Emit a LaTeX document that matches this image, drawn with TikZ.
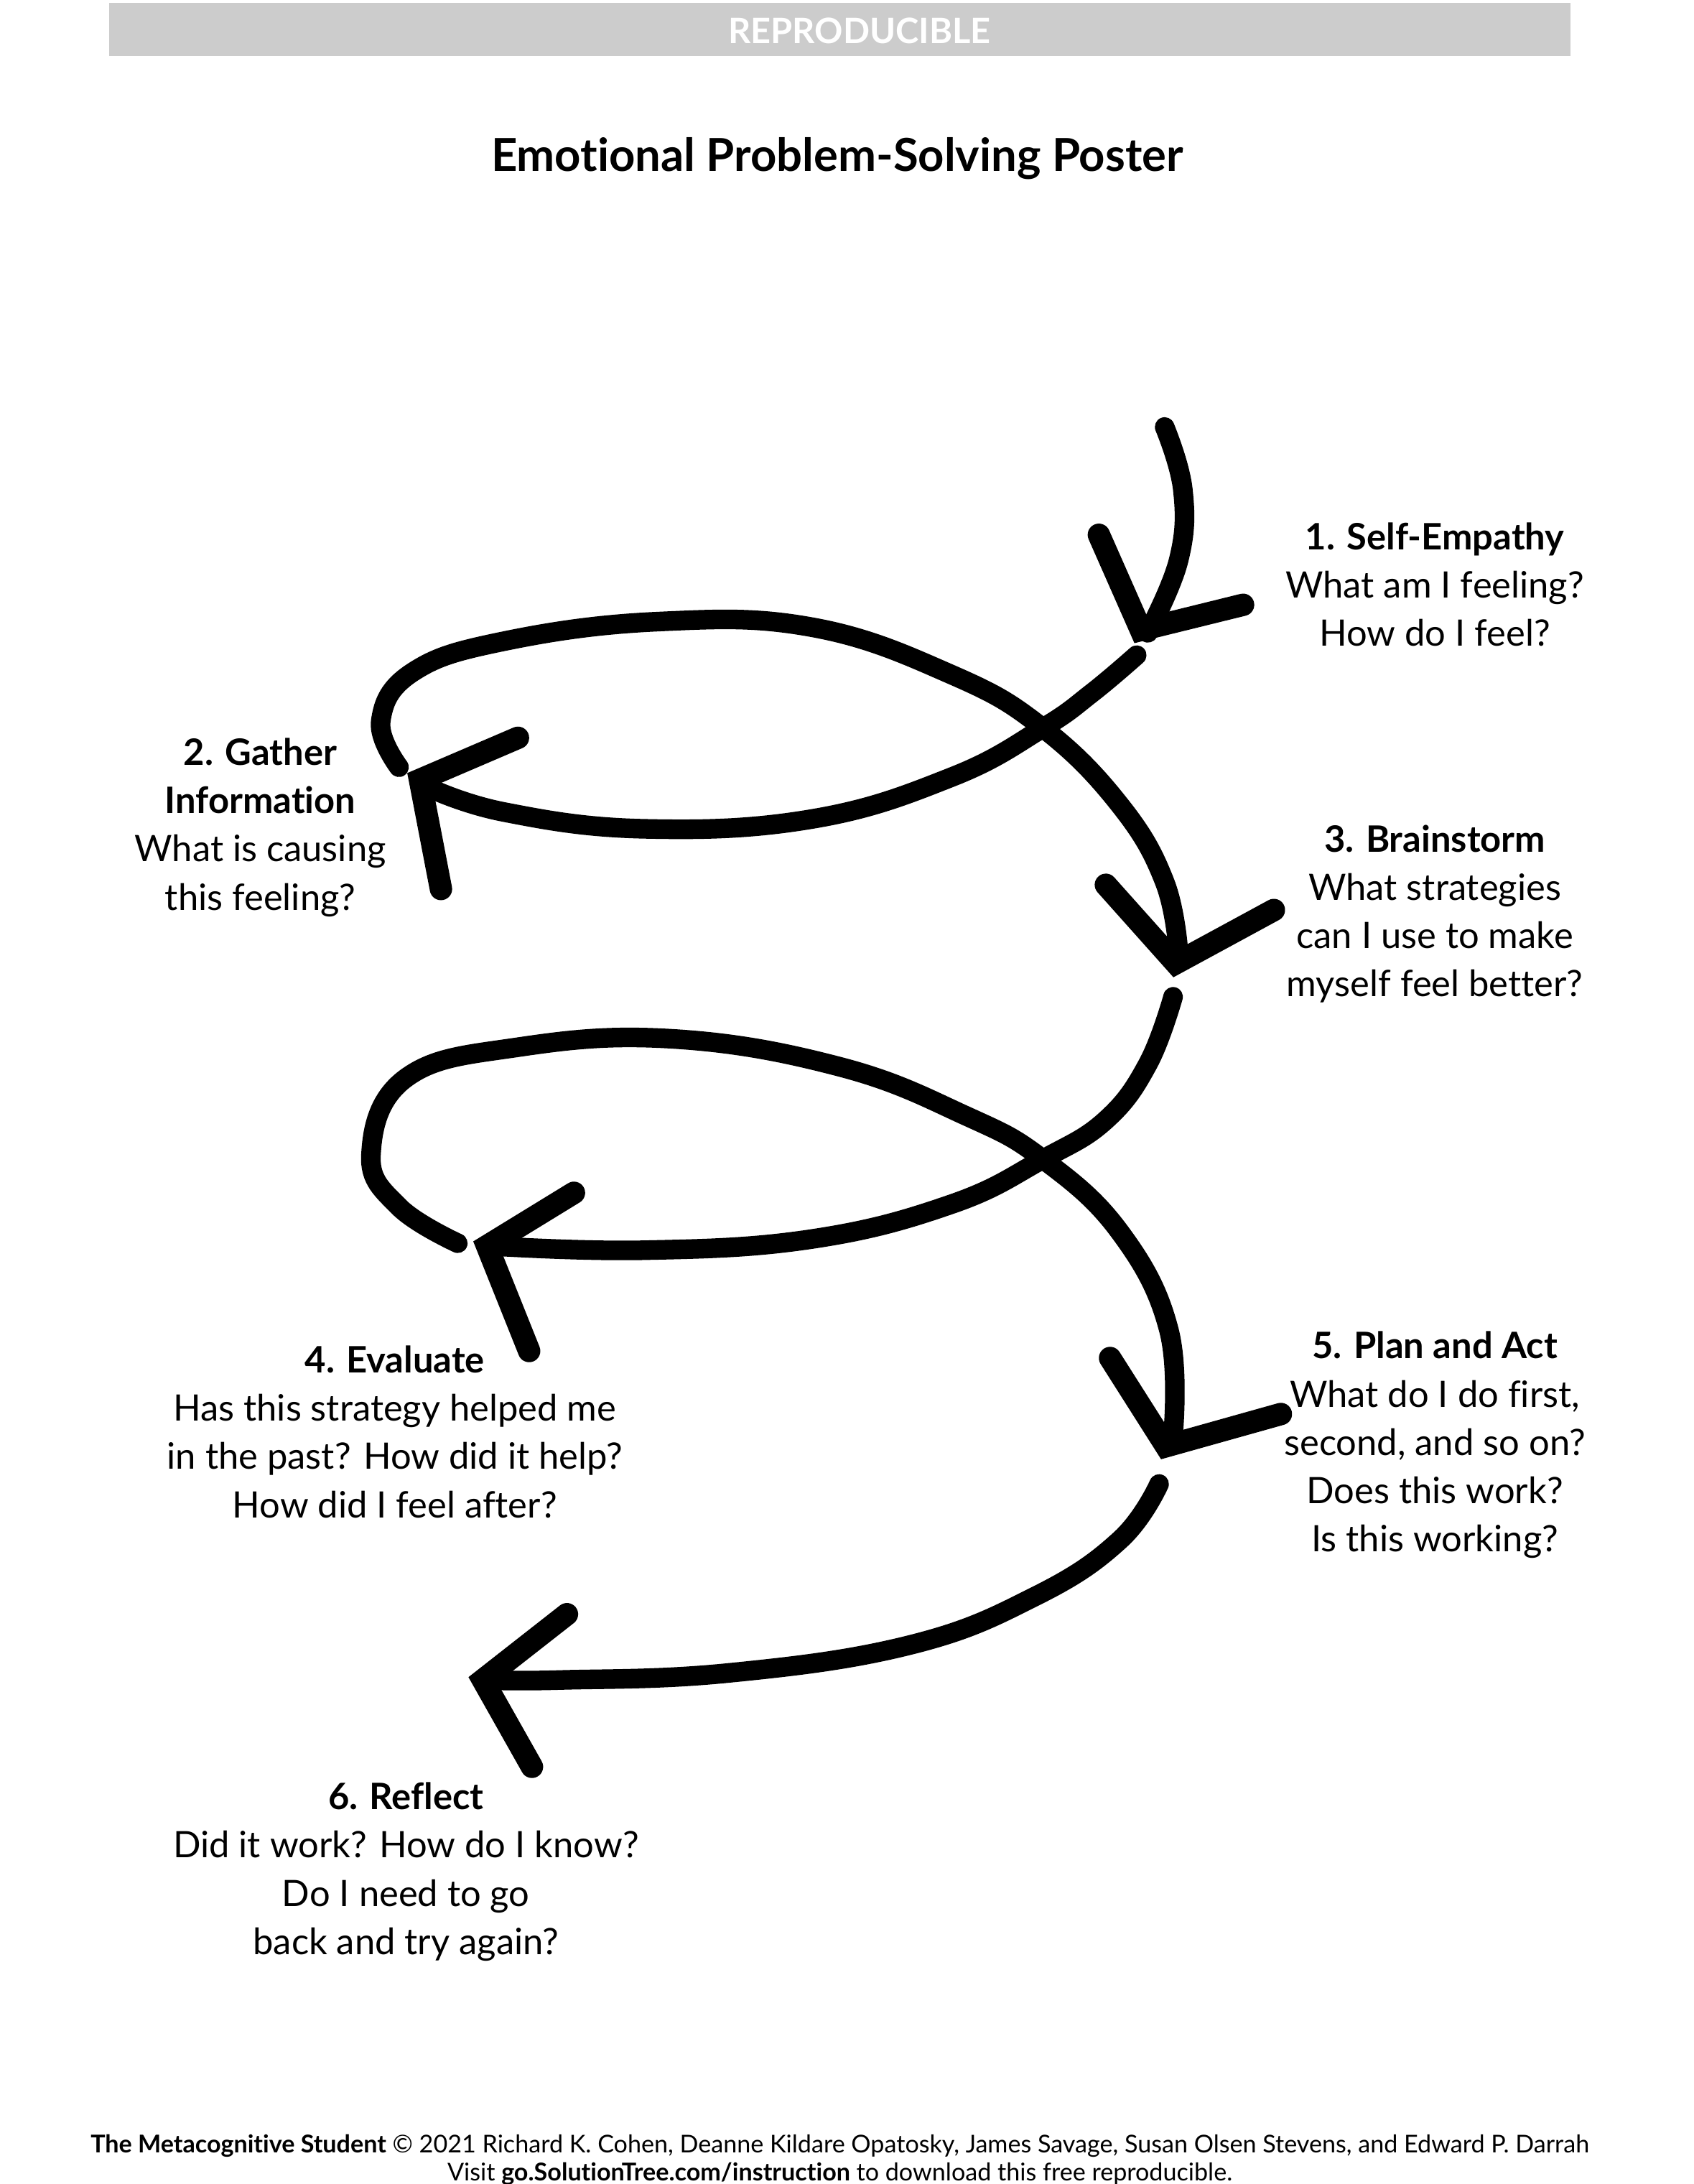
\documentclass[tikz,border=0pt]{standalone}
\usepackage{fontspec}
\setmainfont{Lato}[Ligatures={NoCommon}]
\begin{document}
\begin{tikzpicture}[x=1pt,y=-1pt,
  flow/.style={line width=14pt,black,line cap=round,line join=round},
  head/.style={line width=16pt,black,line cap=round,line join=miter},
  lbl/.style={align=center,font=\fontsize{26}{34.5}\selectfont,inner sep=0pt,anchor=north},
  ttl/.style={font=\bfseries\fontsize{32.5}{36}\selectfont}]
\useasboundingbox (0,0) rectangle (1210,1560);
\fill[black!20] (78,2) rectangle (1122,40);
\node[text=white,font=\bfseries\fontsize{25}{26}\selectfont] (banner) at (614,22) {REPRODUCIBLE};
\node[ttl] (title) at (598,113) {Emotional Problem-Solving Poster};
% arrows
\draw[flow] plot[smooth,tension=0.7] coordinates {(832,305) (845,350) (842,400) (820,452)};
\draw[head] (785,382) -- (815,450) -- (888,432);
\draw[flow] plot[smooth,tension=0.7] coordinates {(812,468) (780,495) (745,520) (680,555) (580,585) (460,592) (360,580) (305,562)};
\draw[head] (370,527) -- (300,557) -- (315,635);
\draw[flow] plot[smooth,tension=0.7] coordinates {(285,548) (272,515) (295,480) (360,458) (470,444) (580,448) (680,482) (745,520) (800,575) (832,630) (842,682)};
\draw[head] (790,632) -- (840,688) -- (910,650);
\draw[flow] plot[smooth,tension=0.7] coordinates {(838,712) (820,760) (790,800) (745,828) (680,860) (580,885) (460,893) (352,890)};
\draw[head] (410,852) -- (348,890) -- (378,965);
\draw[flow] plot[smooth,tension=0.7] coordinates {(327,888) (285,862) (265,825) (290,770) (370,748) (480,742) (600,762) (690,797) (745,828) (800,880) (835,950) (838,1025)};
\draw[head] (793,970) -- (833,1033) -- (915,1010);
\draw[flow] plot[smooth,tension=0.7] coordinates {(828,1060) (800,1100) (740,1140) (650,1175) (520,1195) (400,1200) (350,1200)};
\draw[head] (405,1153) -- (345,1200) -- (380,1262);
% labels
\node[lbl] (s1) at (1025,373) {\textbf{1. Self-Empathy}\\What am I feeling?\\How do I feel?};
\node[lbl] (s2) at (186,527) {\textbf{2. Gather}\\\textbf{Information}\\What is causing\\this feeling?};
\node[lbl] (s3) at (1025,589) {\textbf{3. Brainstorm}\\What strategies\\can I use to make\\myself feel better?};
\node[lbl] (s4) at (282,961) {\textbf{4. Evaluate}\\Has this strategy helped me\\in the past? How did it help?\\How did I feel after?};
\node[lbl] (s5) at (1025,951) {\textbf{5. Plan and Act}\\What do I do first,\\second, and so on?\\Does this work?\\Is this working?};
\node[lbl] (s6) at (290,1273) {\textbf{6. Reflect}\\Did it work? How do I know?\\Do I need to go\\back and try again?};
% footer
\node[font=\fontsize{17.5}{20}\selectfont,inner sep=0pt] (f1) at (600,1533) {\textbf{The Metacognitive Student} © 2021 Richard K. Cohen, Deanne Kildare Opatosky, James Savage, Susan Olsen Stevens, and Edward P. Darrah};
\node[font=\fontsize{17.5}{20}\selectfont,inner sep=0pt] (f2) at (600,1553) {Visit \textbf{go.SolutionTree.com/instruction} to download this free reproducible.};
\end{tikzpicture}
\end{document}
